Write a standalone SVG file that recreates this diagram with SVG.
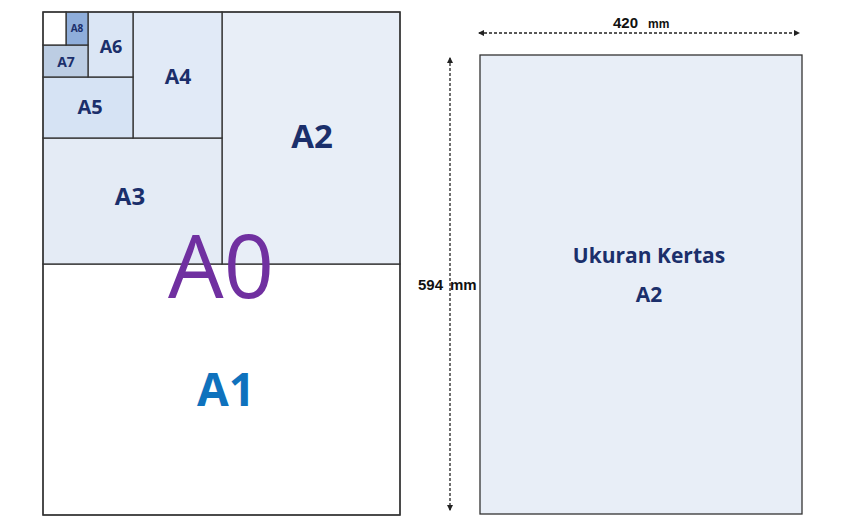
<svg xmlns="http://www.w3.org/2000/svg" width="850" height="527" viewBox="0 0 850 527">
<defs>
<style>
.b{stroke:#333;stroke-width:1.3}
.t{font-family:"Open Sans","Liberation Sans",sans-serif;font-weight:bold;fill:#1b2f6b;text-anchor:middle}
.d{stroke:#222;stroke-width:1.3;stroke-dasharray:3 2;fill:none}
.m{font-family:"Liberation Sans",sans-serif;font-weight:bold;fill:#111}
</style>
<marker id="ah" viewBox="0 0 6 6" refX="5" refY="3" markerWidth="5" markerHeight="5" orient="auto-start-reverse"><path d="M0,0 L6,3 L0,6 Z" fill="#222"/></marker>
</defs>
<rect width="850" height="527" fill="#fff"/>
<g id="A1"><rect class="b" x="43" y="264" width="357" height="251" fill="#fff"/><text class="t" x="226" y="406" font-size="46" style="fill:#0f72bd">A1</text></g>
<g id="A2"><rect class="b" x="222" y="12" width="178" height="252" fill="#e8eef7"/><text class="t" x="312" y="148" font-size="33">A2</text></g>
<g id="A3"><rect class="b" x="43" y="138" width="179" height="126" fill="#e4ebf5"/><text class="t" x="130" y="205" font-size="24">A3</text></g>
<g id="A4"><rect class="b" x="133" y="12" width="89" height="126" fill="#e1eaf7"/><text class="t" x="178" y="84" font-size="21">A4</text></g>
<g id="A5"><rect class="b" x="43" y="77" width="90" height="61" fill="#d6e3f4"/><text class="t" x="90" y="114" font-size="20">A5</text></g>
<g id="A6"><rect class="b" x="88" y="12" width="45" height="65" fill="#dbe6f5"/><text class="t" x="111" y="53" font-size="18">A6</text></g>
<g id="A7"><rect class="b" x="43" y="45" width="45" height="32" fill="#bccde3"/><text class="t" x="66" y="67" font-size="14">A7</text></g>
<g id="A8"><rect class="b" x="66" y="12" width="22" height="33" fill="#8faedb"/><text class="t" x="77" y="32" font-size="10">A8</text></g>
<g id="blank"><rect class="b" x="43" y="12" width="23" height="33" fill="#fff"/></g>
<g id="outer"><rect x="43" y="12" width="357" height="503" fill="none" stroke="#333" stroke-width="1.3"/></g>
<g id="A0"><text x="221" y="298" font-family="Open Sans, Liberation Sans, sans-serif" font-size="88" fill="#7030a0" text-anchor="middle">A0</text></g>
<g id="paper"><rect class="b" x="480" y="55" width="322" height="459" fill="#e8eef7" stroke-width="1.6"/><text class="t" x="649" y="263" font-size="21">Ukuran Kertas</text><text class="t" x="649" y="302" font-size="21">A2</text></g>
<g id="connectors">
<line class="d" x1="479" y1="33" x2="799" y2="33" marker-start="url(#ah)" marker-end="url(#ah)"/>
<line class="d" x1="450" y1="58" x2="450" y2="510" marker-start="url(#ah)" marker-end="url(#ah)"/>
</g>
<g id="labels">
<text class="m" x="613" y="28" font-size="15">420</text>
<text class="m" x="648" y="28" font-size="12">mm</text>
<text class="m" x="418" y="290" font-size="15">594</text>
<text class="m" x="450" y="290" font-size="15">mm</text>
</g>
</svg>
